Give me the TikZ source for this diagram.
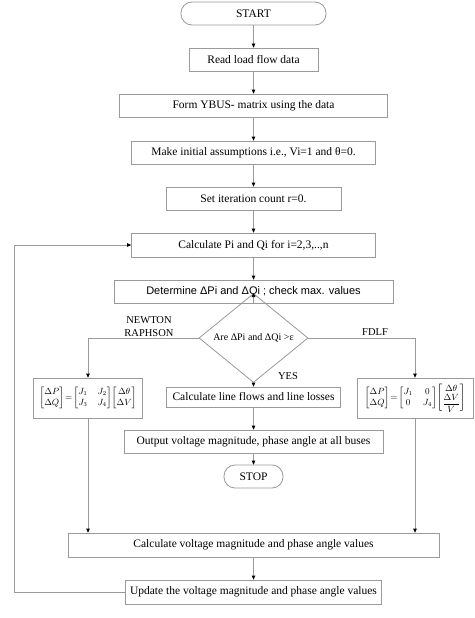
\documentclass[tikz,border=0pt]{standalone}
\usepackage{amsmath}
\usepackage{fontspec}
\setmainfont{Liberation Serif}
\newfontfamily\arialfont{Liberation Sans}
\usetikzlibrary{shapes.geometric,arrows.meta}
\definecolor{boxgray}{HTML}{9A9A9A}
\begin{document}
\begin{tikzpicture}[x=1pt,y=-1pt,
  box/.style={draw=boxgray, line width=0.8pt, rectangle, inner sep=0pt, align=center, font=\fontsize{11.5}{13}\selectfont},
  term/.style={box, rounded corners=11pt},
  conn/.style={draw=boxgray, line width=0.8pt, -{Triangle[length=4pt,width=3.6pt,fill=black,color=black]}},
  lbl/.style={inner sep=0pt, align=center, font=\fontsize{10.5}{12.5}\selectfont},
  eq/.style={box, font=\small}]
\useasboundingbox (0,0) rectangle (474,618);
\fill[white] (0,0) rectangle (474,618);

\node[term, minimum width=145pt, minimum height=23pt] (start) at (253.5,13.5) {START};
\node[box, minimum width=129pt, minimum height=23pt] (read) at (253.5,59.5) {Read load flow data};
\node[box, minimum width=268pt, minimum height=23pt] (form) at (253.5,105.5) {Form YBUS- matrix using the data};
\node[box, minimum width=244pt, minimum height=23pt] (make) at (253.5,152.5) {Make initial assumptions i.e., Vi=1 and θ=0.};
\node[box, minimum width=175pt, minimum height=23pt] (set) at (253.5,198.5) {Set iteration count r=0.};
\node[box, minimum width=244pt, minimum height=24pt] (calcpi) at (253.5,245) {Calculate Pi and Qi for i=2,3,..,n};
\node[box, minimum width=279pt, minimum height=23pt, font=\arialfont\fontsize{11}{13}\selectfont] (det) at (253.5,291.5) {Determine ΔPi and ΔQi ; check max. values};
\node[draw=boxgray, line width=0.8pt, diamond, minimum width=109pt, minimum height=48pt, inner sep=0pt, font=\fontsize{10}{11}\selectfont] (dia) at (253.5,338) {Are ΔPi and ΔQi >ε};

\node[eq, minimum width=109pt, minimum height=40pt] (nr) at (88,398)
  {$\begin{bmatrix}\Delta P\\ \Delta Q\end{bmatrix}\!=\!\begin{bmatrix}J_1 & J_2\\ J_3 & J_4\end{bmatrix}\!\begin{bmatrix}\Delta\theta\\ \Delta V\end{bmatrix}$};
\node[eq, minimum width=116pt, minimum height=40pt] (fd) at (415,398)
  {$\begin{bmatrix}\Delta P\\ \Delta Q\end{bmatrix}\!=\!\begin{bmatrix}J_1 & 0\\ 0 & J_4\end{bmatrix}\!\begin{bmatrix}\Delta\theta\\ \dfrac{\Delta V}{V}\end{bmatrix}$};
\node[box, minimum width=174pt, minimum height=20pt] (lf) at (253.5,397) {Calculate line flows and line losses};
\node[box, minimum width=259pt, minimum height=23pt] (out) at (253.5,441.5) {Output voltage magnitude, phase angle at all buses};
\node[term, minimum width=59pt, minimum height=23pt] (stop) at (253.5,476.5) {STOP};
\node[box, minimum width=371pt, minimum height=24pt] (calcv) at (253.5,545) {Calculate voltage magnitude and phase angle values};
\node[box, minimum width=256pt, minimum height=24pt] (upd) at (253.5,592) {Update the voltage magnitude and phase angle values};

\node[lbl] (lnr) at (149,326.5) {NEWTON\\RAPHSON};
\node[lbl] (lfd) at (375,332) {FDLF};
\node[lbl] (lyes) at (288,376) {YES};

\coordinate (fb) at (14,592);

\draw[conn] (start) -- (read);
\draw[conn] (read) -- (form);
\draw[conn] (form) -- (make);
\draw[conn] (make) -- (set);
\draw[conn] (set) -- (calcpi);
\draw[conn] (calcpi) -- (det);
\draw[conn] (det) -- (dia);
\draw[conn] (dia.west) -| (nr.north);
\draw[conn] (dia.east) -| (fd.north);
\draw[conn] (dia) -- (lf);
\draw[conn] (lf) -- (out);
\draw[conn] (out) -- (stop);
\draw[conn] (nr.south) -- (nr.south |- calcv.north);
\draw[conn] (fd.south) -- (fd.south |- calcv.north);
\draw[conn] (calcv) -- (upd);
\draw[conn] (upd.west) -- (fb) |- (calcpi.west);
\end{tikzpicture}
\end{document}
